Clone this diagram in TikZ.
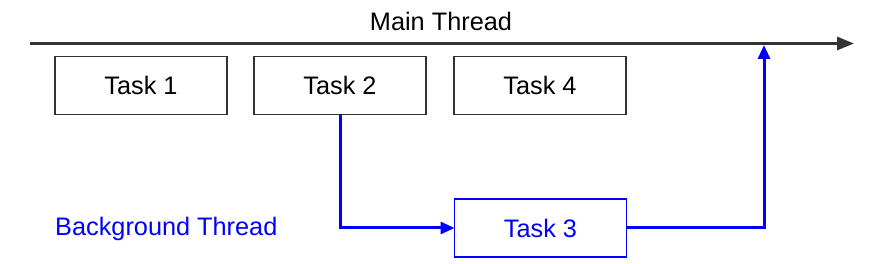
\documentclass[tikz,border=0pt]{standalone}
\usepackage{fontspec}
\setmainfont{Liberation Sans}
\usepackage{xcolor}
\usepackage{tikz}
\usetikzlibrary{arrows.meta, positioning}
\definecolor{ThreadBlue}{HTML}{0000FF}
\definecolor{LineGray}{HTML}{333333}

\begin{document}
\begin{tikzpicture}[
    x=1pt, y=-1pt,
    font=\fontsize{25.3}{29}\selectfont,
    task/.style={draw=LineGray, minimum width=172pt, minimum height=58pt,
                 inner sep=0pt, outer sep=0pt, line width=1.5pt},
    bgtask/.style={task, draw=ThreadBlue, text=ThreadBlue},
    mainarrow/.style={-{Triangle[length=17pt, width=13pt]}, line width=3pt, LineGray},
    bgarrow/.style={-{Triangle[length=14pt, width=12pt]}, line width=3pt, ThreadBlue}
  ]
    \useasboundingbox (0,0) rectangle (894,264);

    % Main thread
    \coordinate (mainstart) at (30,43.5);
    \coordinate (mainend) at (854,43.5);
    \draw[mainarrow] (mainstart) -- (mainend);
    \node (maintitle) at (441,21) {Main Thread};

    % Tasks on the main thread
    \node[task] (task1) at (141,85.5) {Task 1};
    \node[task, right=27pt of task1] (task2) {Task 2};
    \node[task, right=28pt of task2] (task4) {Task 4};

    % Background thread
    \node[bgtask] (task3) at (540.5,228) {Task 3};
    \node[anchor=west, text=ThreadBlue, inner sep=0pt] (bgtitle) at (55,229) {Background Thread};
    \coordinate (rejoin) at (764,45);

    % Arrows
    \draw[bgarrow] (task2.south) |- (task3.west);
    \draw[bgarrow] (task3.east) -| (rejoin);

  \end{tikzpicture}
\end{document}
